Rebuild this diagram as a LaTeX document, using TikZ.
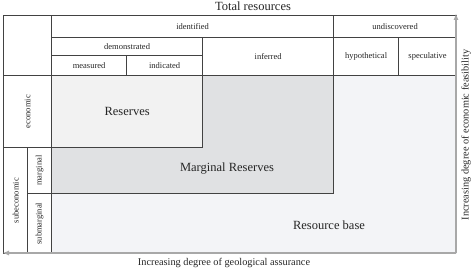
\documentclass[tikz,border=0pt]{standalone}
\usepackage{fontspec}
\setmainfont{Liberation Serif}
\usetikzlibrary{arrows.meta}
\definecolor{gridline}{HTML}{424242}
\definecolor{axisgray}{HTML}{A8A8A8}
\definecolor{resfill}{HTML}{F2F2F2}
\definecolor{margfill}{HTML}{E0E1E3}
\definecolor{basefill}{HTML}{F3F4F7}
\definecolor{txt}{HTML}{262626}
\tikzset{
  cell/.style={draw=gridline, line width=1.2pt, inner sep=0pt, anchor=north west, text=txt},
  head/.style={cell, font=\fontsize{8.5}{10}\selectfont},
  sidetext/.style={rotate=90, text=txt, font=\fontsize{8.5}{10}\selectfont},
  big/.style={text=txt, font=\fontsize{12.5}{14}\selectfont},
  axistext/.style={text=txt, font=\fontsize{10.3}{12}\selectfont},
  axisarrow/.style={draw=axisgray, line width=1.6pt, -{Latex[length=7pt,width=5pt]}},
}
\begin{document}
\begin{tikzpicture}[x=1pt, y=-1pt]
\useasboundingbox (0,0) rectangle (474,270);
% resource classes
\node[cell, draw=none, fill=basefill, minimum width=405pt, minimum height=178pt] (base) at (51,75) {};
\node[cell, fill=margfill, minimum width=282pt, minimum height=118pt] (marg) at (51,75) {};
\node[cell, fill=resfill, minimum width=151pt, minimum height=72pt, font=\fontsize{12.5}{14}\selectfont] (res) at (51,75) {Reserves};
\node[big] (margtext) at (227,169) {Marginal Reserves};
\node[big] (basetext) at (329,225) {Resource base};
% header
\node[cell, minimum width=48pt, minimum height=60pt] (corner) at (3,15) {};
\node[head, minimum width=282pt, minimum height=22pt] (ident) at (51,15) {identified};
\node[head, minimum width=123pt, minimum height=22pt] (undisc) at (333,15) {undiscovered};
\node[head, minimum width=151pt, minimum height=18pt] (demo) at (51,37) {demonstrated};
\node[head, minimum width=131pt, minimum height=38pt] (infer) at (202,37) {inferred};
\node[head, minimum width=65pt, minimum height=38pt] (hypo) at (333,37) {hypothetical};
\node[head, minimum width=58pt, minimum height=38pt] (spec) at (398,37) {speculative};
\node[head, minimum width=75pt, minimum height=20pt] (meas) at (51,55) {measured};
\node[head, minimum width=76pt, minimum height=20pt] (indic) at (126,55) {indicated};
% side
\node[cell, minimum width=48pt, minimum height=72pt, label={[sidetext]center:economic}] (econ) at (3,75) {};
\node[cell, minimum width=24pt, minimum height=106pt, label={[sidetext]center:subeconomic}] (subecon) at (3,147) {};
\node[cell, minimum width=24pt, minimum height=46pt, label={[sidetext]center:marginal}] (margside) at (27,147) {};
\node[cell, minimum width=24pt, minimum height=60pt, label={[sidetext]center:submarginal}] (submarg) at (27,193) {};
% axes
\coordinate (origin) at (456,253);
\coordinate (geoend) at (2,253);
\coordinate (feasend) at (456,13);
\draw[axisarrow] (origin) -- (geoend);
\draw[axisarrow] (origin) -- (feasend);
\node[big] (total) at (253,6.5) {Total resources};
\node[axistext] (geo) at (224,263) {Increasing degree of geological assurance};
\node[axistext, rotate=90] (feas) at (466,135) {Increasing degree of economic feasibility};
\end{tikzpicture}
\end{document}
